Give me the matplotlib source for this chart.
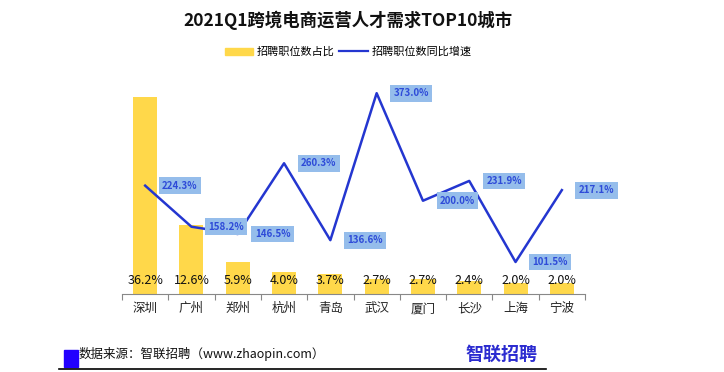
import matplotlib
matplotlib.use("Agg")
import matplotlib.pyplot as plt
from matplotlib.patches import Rectangle
from matplotlib.lines import Line2D

plt.rcParams['font.family'] = ['Noto Sans CJK SC', 'DejaVu Sans']

cities = ['深圳', '广州', '郑州', '杭州', '青岛', '武汉', '厦门', '长沙', '上海', '宁波']
share = [36.2, 12.6, 5.9, 4.0, 3.7, 2.7, 2.7, 2.4, 2.0, 2.0]
growth = [224.3, 158.2, 146.5, 260.3, 136.6, 373.0, 200.0, 231.9, 101.5, 217.1]
title = '2021Q1跨境电商运营人才需求TOP10城市'
legend_labels = ['招聘职位数占比', '招聘职位数同比增速']
source = '数据来源：智联招聘（www.zhaopin.com）'
logo = '智联招聘'

W, H = 724, 372
fig = plt.figure(figsize=(W / 100, H / 100), dpi=100)
ax = fig.add_axes([122 / W, 1 - 294 / H, 463 / W, (294 - 76.4) / H])

bar_color = '#FFD84A'
line_color = '#2436D0'
x = list(range(len(cities)))
ax.bar(x, share, width=0.52, color=bar_color, zorder=1)
ax.set_ylim(0, 40)
ax.set_xlim(-0.5, len(cities) - 0.5)
ax.set_yticks([])
for s in ['top', 'right', 'left']:
    ax.spines[s].set_visible(False)
ax.spines['bottom'].set_color('#888888')
ax.spines['bottom'].set_linewidth(0.8)
ax.set_xticks(x)
ax.set_xticklabels(cities, fontsize=9, color='#222222')
ax.tick_params(axis='x', which='major', length=0, pad=6)
ax.set_xticks([i - 0.5 for i in range(len(cities) + 1)], minor=True)
ax.tick_params(axis='x', which='minor', length=4, color='#888888', width=0.8)

for i, v in enumerate(share):
    ax.annotate(f'{v:.1f}%', (i, 0), xytext=(0, 13), textcoords='offset pixels',
                ha='center', va='center', fontsize=9, color='#111111', zorder=5)

ax2 = ax.twinx()
ax2.plot(x, growth, color=line_color, lw=1.8, zorder=3)
ax2.set_ylim(50, 400)
ax2.set_yticks([])
for s in ['top', 'right', 'left', 'bottom']:
    ax2.spines[s].set_visible(False)
for i, v in enumerate(growth):
    ax2.annotate(f'{v:.1f}%', (i, v), xytext=(17, 0), textcoords='offset pixels',
                 ha='left', va='center', fontsize=7, fontweight='bold', color='#2E4BD8',
                 bbox=dict(boxstyle='square,pad=0.35', fc='#95BDEB', ec='none'), zorder=6)

fig.text(348 / W, 1 - 20 / H, title, ha='center', va='center', fontsize=12.5, fontweight='bold',
         color='#111111')

handles = [Rectangle((0, 0), 1, 1, color=bar_color), Line2D([0], [0], color=line_color, lw=1.6)]
fig.legend(handles, legend_labels, loc='center', bbox_to_anchor=(348 / W, 1 - 52 / H), ncol=2,
           frameon=False, fontsize=8, handlelength=2.6, handleheight=0.6, handletextpad=0.3,
           columnspacing=0.4)

# footer
fig.patches.append(Rectangle((64 / W, 1 - 367 / H), 14 / W, 17 / H, transform=fig.transFigure,
                             color='#2200FF', figure=fig))
fig.text(79 / W, 1 - 354 / H, source, ha='left', va='center', fontsize=9, color='#111111')
fig.lines.append(Line2D([59 / W, 546 / W], [1 - 369 / H, 1 - 369 / H], transform=fig.transFigure,
                        color='black', lw=1.2, figure=fig))
fig.text(501 / W, 1 - 354 / H, logo, ha='center', va='center', fontsize=13, fontweight='bold',
         color='#2B2BD0')

fig.savefig('out.png', dpi=100)
